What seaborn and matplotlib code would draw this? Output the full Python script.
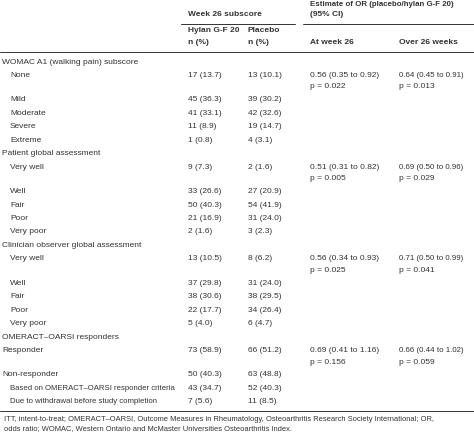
import matplotlib
matplotlib.use("Agg")
import matplotlib.pyplot as plt
import seaborn as sns

sns.set_theme(style="white")
plt.rcParams['font.family'] = ['Liberation Sans', 'DejaVu Sans']

labels = ["WOMAC A1 (walking pain) subscore", "None", "Mild", "Moderate", "Severe", "Extreme",
          "Patient global assessment", "Very well", "Well", "Fair", "Poor", "Very poor",
          "Clinician observer global assessment", "Very well", "Well", "Fair", "Poor", "Very poor",
          "OMERACT\u2013OARSI responders", "Responder", "Non-responder",
          "Based on OMERACT\u2013OARSI responder criteria", "Due to withdrawal before study completion"]
indent = [0, 1, 1, 1, 1, 1, 0, 1, 1, 1, 1, 1, 0, 1, 1, 1, 1, 1, 0, 0, 0, 1, 1]
hylan = ["", "17 (13.7)", "45 (36.3)", "41 (33.1)", "11 (8.9)", "1 (0.8)",
         "", "9 (7.3)", "33 (26.6)", "50 (40.3)", "21 (16.9)", "2 (1.6)",
         "", "13 (10.5)", "37 (29.8)", "38 (30.6)", "22 (17.7)", "5 (4.0)",
         "", "73 (58.9)", "50 (40.3)", "43 (34.7)", "7 (5.6)"]
placebo = ["", "13 (10.1)", "39 (30.2)", "42 (32.6)", "19 (14.7)", "4 (3.1)",
           "", "2 (1.6)", "27 (20.9)", "54 (41.9)", "31 (24.0)", "3 (2.3)",
           "", "8 (6.2)", "31 (24.0)", "38 (29.5)", "34 (26.4)", "6 (4.7)",
           "", "66 (51.2)", "63 (48.8)", "52 (40.3)", "11 (8.5)"]
or_week26 = {1: ("0.56 (0.35 to 0.92)", "p = 0.022"), 7: ("0.51 (0.31 to 0.82)", "p = 0.005"),
             13: ("0.56 (0.34 to 0.93)", "p = 0.025"), 19: ("0.69 (0.41 to 1.16)", "p = 0.156")}
or_over26 = {1: ("0.64 (0.45 to 0.91)", "p = 0.013"), 7: ("0.69 (0.50 to 0.96)", "p = 0.029"),
             13: ("0.71 (0.50 to 0.99)", "p = 0.041"), 19: ("0.66 (0.44 to 1.02)", "p = 0.059")}
footnote = ("ITT, intent-to-treat; OMERACT\u2013OARSI, Outcome Measures in Rheumatology, Osteoarthritis Research Society International; OR,\n"
            "odds ratio; WOMAC, Western Ontario and McMaster Universities Osteoarthritis Index.")

W, H = 474, 434
fig = plt.figure(figsize=(W / 100, H / 100), dpi=100)
ax = fig.add_axes([0, 0, 1, 1])
ax.set_xlim(0, W)
ax.set_ylim(H, 0)
ax.axis("off")

fs = 6.0
col = "#333333"
xl, xh, xp, xa, xo = 2, 188, 248, 310, 399

def t(x, y, s, size=fs, **kw):
    ax.text(x, y, s, fontsize=size, color=col, va="center", ha="left", **kw)

# header
t(xh, 14, "Week 26 subscore", weight="bold")
t(xa, 5, "Estimate of OR (placebo/hylan G-F 20)", size=5.7, weight="bold")
t(xa, 15, "(95% CI)", weight="bold")
ax.plot([181, 295], [23.5, 23.5], color=col, lw=0.7)
ax.plot([303, W], [23.5, 23.5], color=col, lw=0.7)
t(xh, 31, "Hylan G-F 20", weight="bold")
t(xh, 43, "n (%)", weight="bold")
t(xp, 31, "Placebo", weight="bold")
t(xp, 43, "n (%)", weight="bold")
t(xa, 43, "At week 26", weight="bold")
t(xo, 43, "Over 26 weeks", weight="bold")
ax.plot([0, W], [51.5, 51.5], color=col, lw=0.7)

y = 62
step = 13.45
for i, lab in enumerate(labels):
    size = 5.6 if i >= 21 else fs
    t(xl + 8 * indent[i], y, lab, size=size)
    t(xh, y, hylan[i])
    t(xp, y, placebo[i])
    if i in or_week26:
        t(xa, y, or_week26[i][0])
        t(xa, y + 11.5, or_week26[i][1])
        t(xo, y, or_over26[i][0], size=5.7)
        t(xo, y + 11.5, or_over26[i][1])
        y += step + 11
    else:
        y += step

ax.plot([0, W], [410.5, 410.5], color=col, lw=0.7)
ax.text(4, 424, footnote, fontsize=5.45, color=col, va="center", ha="left", linespacing=1.4)

fig.savefig("out.png", dpi=100)
